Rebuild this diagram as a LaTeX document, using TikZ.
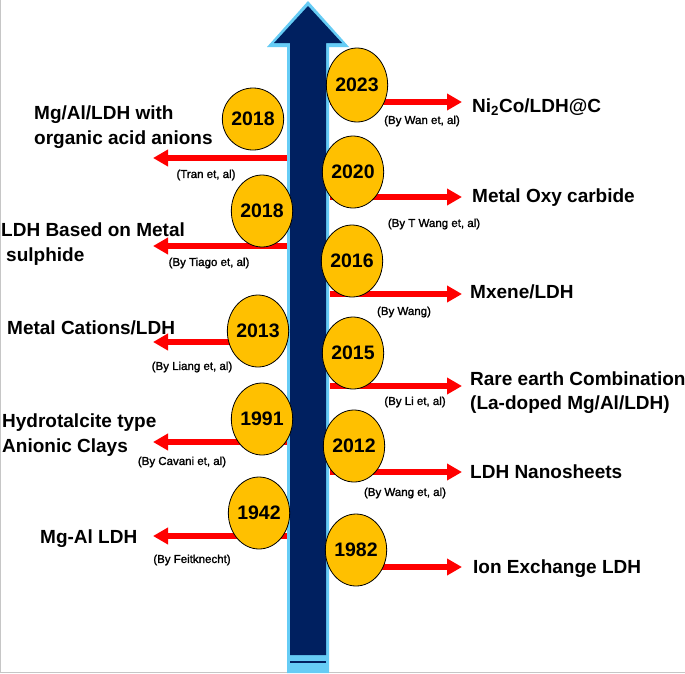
\documentclass[tikz,border=0pt]{standalone}
\usepackage{fontspec}
\setmainfont{Liberation Sans}
\newfontfamily\citefont[FakeBold=1.5]{Liberation Sans}
\usetikzlibrary{arrows.meta,shapes.geometric}
\definecolor{navy}{HTML}{002060}
\definecolor{skyb}{HTML}{66CCF5}
\definecolor{gold}{HTML}{FFC000}
\definecolor{redar}{HTML}{FF0000}
\begin{document}
\begin{tikzpicture}[x=1pt,y=-1pt,
  year/.style={ellipse,draw=black,line width=0.8pt,fill=gold,minimum width=60pt,minimum height=72pt,inner sep=0pt,font=\fontsize{19.5}{19.5}\selectfont\bfseries},
  lab/.style={anchor=base west,inner sep=0pt,font=\fontsize{19}{19}\selectfont\bfseries},
  cite/.style={inner sep=0pt,font=\fontsize{11.5}{11.5}\selectfont\citefont},
  redarrow/.style={draw=redar,line width=6pt,-{Triangle[length=15pt,width=16pt]}}]
\useasboundingbox (0,0) rectangle (685,673);
\fill[white] (0,0) rectangle (685,673);
\draw[gray!45,line width=1pt] (0.5,0) -- (0.5,672.5) -- (685,672.5);
% timeline arrow
\fill[skyb] (287,673) -- (287,47) -- (267,47) -- (308,1) -- (349,47) -- (329,47) -- (329,673) -- cycle;
\fill[navy] (290,655) -- (290,43) -- (274,43) -- (308,6) -- (342,43) -- (326,43) -- (326,655) -- cycle;
\draw[navy,line width=2pt] (290,662) -- (326,662);
% arrow anchors
\coordinate (sL1) at (287,158); \coordinate (tL1) at (153,158);
\coordinate (sL2) at (287,246); \coordinate (tL2) at (153,246);
\coordinate (sL3) at (287,342); \coordinate (tL3) at (153,342);
\coordinate (sL4) at (287,442); \coordinate (tL4) at (153,442);
\coordinate (sL5) at (287,536); \coordinate (tL5) at (153,536);
\coordinate (sR1) at (330,102); \coordinate (tR1) at (462,102);
\coordinate (sR2) at (330,197); \coordinate (tR2) at (462,197);
\coordinate (sR3) at (330,294); \coordinate (tR3) at (462,294);
\coordinate (sR4) at (330,386); \coordinate (tR4) at (462,386);
\coordinate (sR5) at (330,472); \coordinate (tR5) at (462,472);
\coordinate (sR6) at (330,567); \coordinate (tR6) at (462,567);
\foreach \i in {L1,L2,L3,L4,L5,R1,R2,R3,R4,R5,R6}{\draw[redarrow] (s\i) -- (t\i);}
% year circles
\node[year,minimum height=62pt] (y2018a) at (253,119) {2018};
\node[year] (y2018b) at (262,211) {2018};
\node[year] (y2013) at (258,331) {2013};
\node[year] (y1991) at (262,419) {1991};
\node[year] (y1942) at (259,513) {1942};
\node[year,minimum height=74pt] (y2023) at (357,85) {2023};
\node[year] (y2020) at (353,172) {2020};
\node[year] (y2016) at (352,261) {2016};
\node[year] (y2015) at (353,353) {2015};
\node[year] (y2012) at (354,446) {2012};
\node[year] (y1982) at (356,550) {1982};
% left labels
\node[lab] (l1a) at (34,119) {Mg/Al/LDH with};
\node[lab] (l1b) at (34,144) {organic acid anions};
\node[lab] (l2a) at (1,236) {LDH Based on Metal};
\node[lab] (l2b) at (6,261) {sulphide};
\node[lab] (l3) at (7,334) {Metal Cations/LDH};
\node[lab] (l4a) at (2,427) {Hydrotalcite type};
\node[lab] (l4b) at (2,452) {Anionic Clays};
\node[lab] (l5) at (40,543) {Mg-Al LDH};
% right labels
\node[lab] (r1) at (472,112) {Ni\textsubscript{2}Co/LDH@C};
\node[lab] (r2) at (472,202) {Metal Oxy carbide};
\node[lab] (r3) at (470,298) {Mxene/LDH};
\node[lab] (r4a) at (470,385) {Rare earth Combination};
\node[lab] (r4b) at (470,409) {(La-doped Mg/Al/LDH)};
\node[lab] (r5) at (470,478) {LDH Nanosheets};
\node[lab] (r6) at (473,573) {Ion Exchange LDH};
% citations
\node[cite] (c1) at (206,175) {(Tran et, al)};
\node[cite] (c2) at (209,263) {(By Tiago et, al)};
\node[cite] (c3) at (192,367) {(By Liang et, al)};
\node[cite] (c4) at (182,462) {(By Cavani et, al)};
\node[cite] (c5) at (192,560) {(By Feitknecht)};
\node[cite] (c6) at (422,121) {(By Wan et, al)};
\node[cite] (c7) at (434,224) {(By T Wang et, al)};
\node[cite] (c8) at (404,312) {(By Wang)};
\node[cite] (c9) at (415,402) {(By Li et, al)};
\node[cite] (c10) at (405,493) {(By Wang et, al)};
\end{tikzpicture}
\end{document}
